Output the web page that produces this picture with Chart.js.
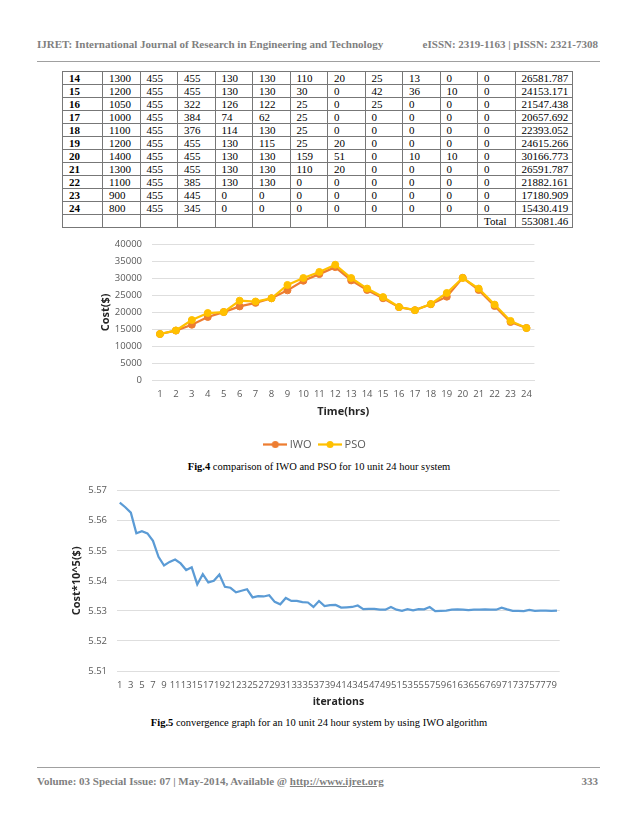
<!DOCTYPE html>
<html>
<head>
<meta charset="utf-8">
<script src="https://cdn.jsdelivr.net/npm/chart.js@4/dist/chart.umd.min.js"></script>
<style>
  html, body { margin: 0; padding: 0; background: #fff; }
  body { width: 638px; height: 826px; position: relative; overflow: hidden;
         font-family: "Liberation Serif", "Times New Roman", serif; color: #000; }
  .hdr { position: absolute; font-weight: bold; font-size: 11px; line-height: 12px;
         color: #7f7f7f; white-space: nowrap; }
  .hdr a { color: #7f7f7f; }
  .rule { position: absolute; left: 37px; width: 563px; height: 0; border-top: 1.5px solid #a0a0a0; }
  table { position: absolute; left: 62px; top: 71px; border-collapse: collapse;
          table-layout: fixed; font-size: 11px; }
  td { border: 1px solid #777; height: 12px; line-height: 12px; padding: 0 0 0 6px;
       white-space: nowrap; overflow: hidden; }
  td.b { font-weight: bold; }
  .cap { position: absolute; left: 0; width: 638px; text-align: center; font-size: 10.5px; line-height: 12px; }
  canvas { position: absolute; }
</style>
</head>
<body>

<div class="hdr" style="left:37px; top:38px;">IJRET: International Journal of Research in Engineering and Technology</div>
<div class="hdr" style="right:40px; top:38px;">eISSN: 2319-1163 | pISSN: 2321-7308</div>
<div class="rule" style="top:61px;"></div>

<table id="tbl"></table>

<canvas id="costChart" width="444" height="224" style="left:96px; top:236px;"></canvas>
<div class="cap" style="top:461px;"><b>Fig.4</b> comparison of IWO and PSO for 10 unit 24 hour system</div>

<canvas id="convChart" width="506" height="230" style="left:60px; top:482px;"></canvas>
<div class="cap" style="top:717px;"><b>Fig.5</b> convergence graph for an 10 unit 24 hour system by using IWO algorithm</div>

<div class="rule" style="top:767px;"></div>
<div class="hdr" style="left:37px; top:775px;">Volume: 03 Special Issue: 07 | May-2014, Available @ <a href="#">http://www.ijret.org</a></div>
<div class="hdr" style="right:40px; top:775px;">333</div>

<script>
// table rows (hour, load, unit outputs..., cost)
var tableRows = [
  ['14', '1300', '455', '455', '130', '130', '110', '20', '25', '13', '0', '0', '26581.787'],
  ['15', '1200', '455', '455', '130', '130', '30', '0', '42', '36', '10', '0', '24153.171'],
  ['16', '1050', '455', '322', '126', '122', '25', '0', '25', '0', '0', '0', '21547.438'],
  ['17', '1000', '455', '384', '74', '62', '25', '0', '0', '0', '0', '0', '20657.692'],
  ['18', '1100', '455', '376', '114', '130', '25', '0', '0', '0', '0', '0', '22393.052'],
  ['19', '1200', '455', '455', '130', '115', '25', '20', '0', '0', '0', '0', '24615.266'],
  ['20', '1400', '455', '455', '130', '130', '159', '51', '0', '10', '10', '0', '30166.773'],
  ['21', '1300', '455', '455', '130', '130', '110', '20', '0', '0', '0', '0', '26591.787'],
  ['22', '1100', '455', '385', '130', '130', '0', '0', '0', '0', '0', '0', '21882.161'],
  ['23', '900', '455', '445', '0', '0', '0', '0', '0', '0', '0', '0', '17180.909'],
  ['24', '800', '455', '345', '0', '0', '0', '0', '0', '0', '0', '0', '15430.419'],
  ['', '', '', '', '', '', '', '', '', '', '', 'Total', '553081.46']
];
var colWidths = [40, 37.5, 37.5, 37.5, 37.5, 37.5, 37.5, 37.5, 37.5, 37.5, 37.5, 37.5, 57];

// fig 4 data
var hours = ['1', '2', '3', '4', '5', '6', '7', '8', '9', '10', '11', '12',
             '13', '14', '15', '16', '17', '18', '19', '20', '21', '22', '23', '24'];
var iwoCost = [13650, 14650, 16380, 18650, 20100, 21760, 22800, 24150, 26470, 29300, 31250, 33300,
               29400, 26581.787, 24153.171, 21547.438, 20657.692, 22393.052, 24615.266, 30166.773,
               26591.787, 21882.161, 17180.909, 15430.419];
var psoCost = [13650, 14700, 17760, 19820, 20100, 23440, 23200, 24150, 28060, 30100, 31880, 34000,
               30100, 27000, 24500, 21590, 20650, 22470, 25700, 30120, 27000, 22300, 17500, 15400];

// fig 5 data (cost * 10^5)
var iterCost = [
  5.5660, 5.5645, 5.5627, 5.5558, 5.5565, 5.5558, 5.5533, 5.5480, 5.5451, 5.5463,
  5.5471, 5.5458, 5.5436, 5.5445, 5.5388, 5.5422, 5.5395, 5.5400, 5.5421, 5.5380,
  5.5377, 5.5362, 5.5367, 5.5372, 5.5345, 5.5349, 5.5348, 5.5352, 5.5330, 5.5322,
  5.5343, 5.5333, 5.5333, 5.5329, 5.5328, 5.5313, 5.5333, 5.5316, 5.5319, 5.5320,
  5.5311, 5.5312, 5.5313, 5.5318, 5.5306, 5.5307, 5.5307, 5.5304, 5.5304, 5.5313,
  5.5304, 5.5300, 5.5306, 5.5302, 5.5306, 5.5305, 5.5313, 5.5299, 5.5300, 5.5301,
  5.5304, 5.5305, 5.5304, 5.5303, 5.5304, 5.5304, 5.5305, 5.5304, 5.5304, 5.5311,
  5.5305, 5.5300, 5.5300, 5.5299, 5.5303, 5.5300, 5.5301, 5.5301, 5.5300, 5.5301
];
var iterations = iterCost.map(function (v, i) { return String(i + 1); });

// build table
var tbl = document.getElementById('tbl');
var cg = document.createElement('colgroup');
colWidths.forEach(function (w) {
  var col = document.createElement('col');
  col.style.width = w + 'px';
  cg.appendChild(col);
});
tbl.appendChild(cg);
tableRows.forEach(function (row) {
  var tr = document.createElement('tr');
  row.forEach(function (txt, j) {
    var td = document.createElement('td');
    td.textContent = txt;
    if (j === 0) td.className = 'b';
    tr.appendChild(td);
  });
  tbl.appendChild(tr);
});

Chart.defaults.font.family = '"Open Sans", sans-serif';
Chart.defaults.color = '#595959';

var gridColor = '#dedede';

// legend marker: line with dot, like the excel legend
function legendMark(color) {
  var c = document.createElement('canvas');
  c.width = 24; c.height = 9;
  var g = c.getContext('2d');
  g.strokeStyle = color; g.lineWidth = 2.25;
  g.beginPath(); g.moveTo(0, 4.5); g.lineTo(24, 4.5); g.stroke();
  g.fillStyle = color;
  g.beginPath(); g.arc(12, 4.5, 3.5, 0, Math.PI * 2); g.fill();
  return c;
}
var marks = [legendMark('#ED7D31'), legendMark('#FFC000')];

// fixed y axis width, and no extra top padding from the tick labels
function yFit(w) {
  return function (s) { s.width = w; s.paddingTop = 0; };
}

// FIG 4
new Chart(document.getElementById('costChart').getContext('2d'), {
  type: 'line',
  data: {
    labels: hours,
    datasets: [{
      label: 'IWO',
      data: iwoCost,
      borderColor: '#ED7D31',
      backgroundColor: '#ED7D31',
      borderWidth: 2.25,
      pointRadius: 3.5,
      pointBorderWidth: 1,
      tension: 0,
      order: 1
    }, {
      label: 'PSO',
      data: psoCost,
      borderColor: '#FFC000',
      backgroundColor: '#FFC000',
      borderWidth: 2.25,
      pointRadius: 3.5,
      pointBorderWidth: 1,
      tension: 0,
      order: 0 // drawn on top
    }]
  },
  options: {
    responsive: false,
    animation: false,
    layout: { padding: { top: 8.3, right: 4, left: 0, bottom: 0 } },
    scales: {
      x: {
        offset: true,
        grid: { display: false, drawTicks: false },
        border: { display: true, color: gridColor, width: 1 },
        ticks: { font: { size: 9.5 }, padding: 8, maxRotation: 0, autoSkip: false },
        title: { display: true, text: 'Time(hrs)', color: '#262626',
                 font: { size: 11, weight: 'bold' }, padding: { top: 0, bottom: 11.5 } },
        afterFit: function (s) { s.height = 49; }
      },
      y: {
        min: 0, max: 40000,
        ticks: { stepSize: 5000, font: { size: 9.5 }, padding: 10,
                 callback: function (v) { return String(v); } },
        grid: { color: gridColor, drawTicks: false },
        border: { display: false },
        title: { display: true, text: 'Cost($)', color: '#262626',
                 font: { size: 11, weight: 'bold' }, padding: { top: 3, bottom: 0 } },
        afterFit: yFit(56)
      }
    },
    plugins: {
      tooltip: { enabled: false },
      legend: {
        position: 'bottom',
        labels: {
          usePointStyle: true,
          pointStyleWidth: 18,
          padding: 9.5,
          color: '#595959',
          font: { size: 11 },
          sort: function (a, b) { return a.datasetIndex - b.datasetIndex; },
          generateLabels: function (chart) {
            return Chart.defaults.plugins.legend.labels.generateLabels(chart).map(function (item) {
              item.pointStyle = marks[item.datasetIndex];
              return item;
            });
          }
        }
      }
    }
  }
});

// FIG 5
new Chart(document.getElementById('convChart').getContext('2d'), {
  type: 'line',
  data: {
    labels: iterations,
    datasets: [{
      label: 'IWO',
      data: iterCost,
      borderColor: '#5B9BD5',
      borderWidth: 2.25,
      pointRadius: 0,
      tension: 0
    }]
  },
  options: {
    responsive: false,
    animation: false,
    layout: { padding: { top: 8.7, right: 4, left: 0, bottom: 0 } },
    scales: {
      x: {
        offset: true,
        grid: { display: false, drawTicks: false },
        border: { display: false },
        ticks: {
          font: { size: 9.5 }, padding: 9, maxRotation: 0, minRotation: 0, autoSkip: false,
          callback: function (v, i) { return i % 2 === 0 ? iterations[i] : ''; }
        },
        title: { display: true, text: 'iterations', color: '#262626',
                 font: { size: 10.5, weight: 'bold' }, padding: { top: 0, bottom: 4 } },
        afterFit: function (s) { s.height = 41; }
      },
      y: {
        min: 5.51, max: 5.57,
        ticks: { stepSize: 0.01, font: { size: 9.5 }, padding: 10,
                 callback: function (v) { return v.toFixed(2); } },
        grid: { color: gridColor, drawTicks: false },
        border: { display: false },
        title: { display: true, text: 'Cost*10^5($)', color: '#262626',
                 font: { size: 11, weight: 'bold' }, padding: { top: 10, bottom: 0 } },
        afterFit: yFit(57)
      }
    },
    plugins: {
      tooltip: { enabled: false },
      legend: { display: false }
    }
  }
});
</script>
</body>
</html>
